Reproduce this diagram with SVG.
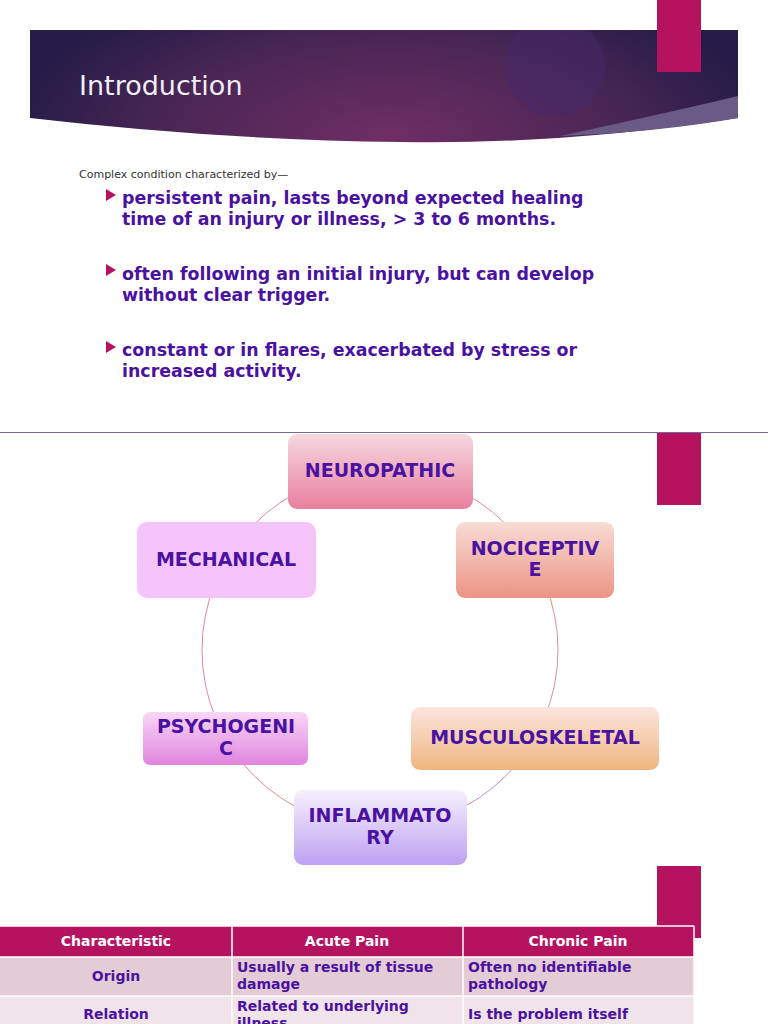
<svg xmlns="http://www.w3.org/2000/svg" width="768" height="1024" viewBox="0 0 768 1024">
<style>
.b{font-family:"DejaVu Sans",sans-serif;font-weight:bold;fill:#4a12a0}
.n{font-family:"DejaVu Sans",sans-serif;font-weight:bold;fill:#4a12a0;font-size:19px;text-anchor:middle}
.h{font-family:"DejaVu Sans",sans-serif;font-weight:bold;fill:#fff;font-size:14px;text-anchor:middle}
.c{font-family:"DejaVu Sans",sans-serif;font-weight:bold;fill:#4a12a0;font-size:14px}
.tab{fill:#b5135f}
</style>
<defs>
<radialGradient id="hd" gradientUnits="userSpaceOnUse" cx="390" cy="140" r="380" gradientTransform="translate(390 140) scale(1 0.45) translate(-390 -140)">
<stop offset="0" stop-color="#6f2e66"/><stop offset="0.6" stop-color="#4a2655"/><stop offset="1" stop-color="#251c47"/></radialGradient>
<clipPath id="hc"><path d="M30 30 H738 V118 Q560 145 400 142 Q220 140 30 118 Z"/></clipPath>
<linearGradient id="g1" x1="0" y1="0" x2="0" y2="1"><stop offset="0" stop-color="#f6d8e0"/><stop offset="1" stop-color="#e97f9e"/></linearGradient>
<linearGradient id="g2" x1="0" y1="0" x2="0" y2="1"><stop offset="0" stop-color="#f8dcd6"/><stop offset="1" stop-color="#ec9484"/></linearGradient>
<linearGradient id="g3" x1="0" y1="0" x2="0" y2="1"><stop offset="0" stop-color="#fbe5df"/><stop offset="1" stop-color="#efb57e"/></linearGradient>
<linearGradient id="g4" x1="0" y1="0" x2="0" y2="1"><stop offset="0" stop-color="#f6f0fd"/><stop offset="1" stop-color="#bda1f2"/></linearGradient>
<linearGradient id="g5" x1="0" y1="0" x2="0" y2="1"><stop offset="0" stop-color="#f8d6f6"/><stop offset="1" stop-color="#e085de"/></linearGradient>
<linearGradient id="ring" x1="0" y1="0" x2="1" y2="1"><stop offset="0" stop-color="#e07cb8"/><stop offset="0.6" stop-color="#f08a7a"/><stop offset="1" stop-color="#b18af0"/></linearGradient>
</defs>
<g id="slide1">
<path d="M30 30 H738 V118 Q560 145 400 142 Q220 140 30 118 Z" fill="url(#hd)"/>
<g clip-path="url(#hc)"><circle cx="555" cy="66" r="50" fill="#45286a" opacity="0.5"/></g>
<path d="M560 136 Q680 110 738 96 V118 Q660 132 560 136 Z" fill="#6a5a86"/>
<rect class="tab" x="657" y="0" width="44" height="72"/>
<text x="79" y="95" font-family="DejaVu Sans,sans-serif" font-size="27" fill="#f2eef5">Introduction</text>
<text x="79" y="178" font-family="DejaVu Sans,sans-serif" font-size="11" fill="#333">Complex condition characterized by—</text>
<g fill="#b5135f"><path d="M106 189 l10 6 -10 6z"/><path d="M106 264 l10 6 -10 6z"/><path d="M106 341 l10 6 -10 6z"/></g>
<text class="b" font-size="17.4"><tspan x="122" y="204">persistent pain, lasts beyond expected healing</tspan><tspan x="122" y="225">time of an injury or illness, &gt; 3 to 6 months.</tspan><tspan x="122" y="280">often following an initial injury, but can develop</tspan><tspan x="122" y="301">without clear trigger.</tspan><tspan x="122" y="356">constant or in flares, exacerbated by stress or</tspan><tspan x="122" y="377">increased activity.</tspan></text>
</g>
<line x1="0" y1="432.5" x2="768" y2="432.5" stroke="#7a6a9a" stroke-width="1"/>
<rect class="tab" x="657" y="433" width="44" height="72"/>
<g id="connectors"><circle cx="380" cy="650" r="178" fill="none" stroke="url(#ring)" stroke-width="1"/></g>
<g id="neuropathic"><rect x="288" y="434" width="185" height="75" rx="9" fill="url(#g1)"/><text class="n" x="380" y="477">NEUROPATHIC</text></g>
<g id="nociceptive"><rect x="456" y="522" width="158" height="76" rx="9" fill="url(#g2)"/><text class="n" x="535" y="555">NOCICEPTIV</text><text class="n" x="535" y="576">E</text></g>
<g id="musculoskeletal"><rect x="411" y="707" width="248" height="63" rx="9" fill="url(#g3)"/><text class="n" x="535" y="744">MUSCULOSKELETAL</text></g>
<g id="inflammatory"><rect x="294" y="790" width="173" height="75" rx="9" fill="url(#g4)"/><text class="n" x="380" y="822">INFLAMMATO</text><text class="n" x="380" y="844">RY</text></g>
<g id="psychogenic"><rect x="143" y="712" width="165" height="53" rx="7" fill="url(#g5)"/><text class="n" x="226" y="733">PSYCHOGENI</text><text class="n" x="226" y="755">C</text></g>
<g id="mechanical"><rect x="137" y="522" width="179" height="76" rx="10" fill="#f4c4fb"/><text class="n" x="226" y="566">MECHANICAL</text></g>
<rect class="tab" x="657" y="866" width="44" height="72"/>
<g id="table">
<rect x="0" y="926" width="694" height="31" fill="#b5135f"/>
<rect x="0" y="957" width="694" height="39" fill="#e3ccd5"/>
<rect x="0" y="996" width="694" height="28" fill="#f0e3ea"/>
<g stroke="#fff" stroke-width="1.5"><line x1="232" y1="926" x2="232" y2="1024"/><line x1="463" y1="926" x2="463" y2="1024"/><line x1="0" y1="957" x2="694" y2="957"/><line x1="0" y1="996" x2="694" y2="996"/><line x1="0" y1="926" x2="694" y2="926"/><line x1="694" y1="926" x2="694" y2="1024"/></g>
<text class="h" x="116" y="946">Characteristic</text><text class="h" x="347" y="946">Acute Pain</text><text class="h" x="578" y="946">Chronic Pain</text>
<text class="c" x="116" y="981" text-anchor="middle">Origin</text>
<text class="c" x="237" y="972">Usually a result of tissue</text><text class="c" x="237" y="989">damage</text>
<text class="c" x="468" y="972">Often no identifiable</text><text class="c" x="468" y="989">pathology</text>
<text class="c" x="116" y="1019" text-anchor="middle">Relation</text>
<text class="c" x="237" y="1011">Related to underlying</text><text class="c" x="237" y="1028">illness</text>
<text class="c" x="468" y="1019">Is the problem itself</text>
</g>
</svg>
